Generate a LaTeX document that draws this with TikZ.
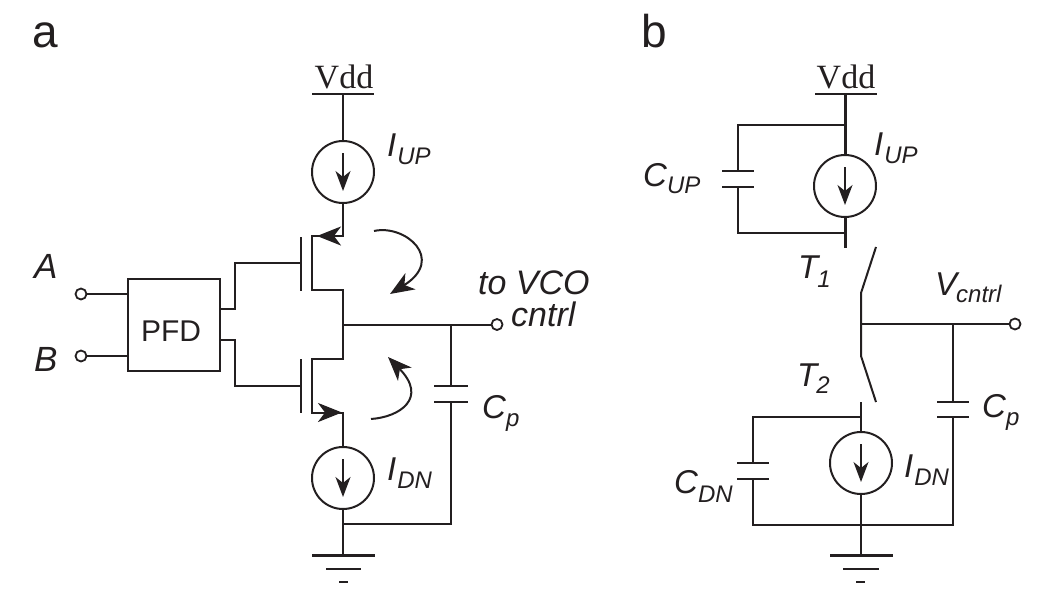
\documentclass[tikz,border=0pt]{standalone}
\usepackage{fontspec}
\setmainfont{Liberation Sans}
\newfontfamily\vddfont{Liberation Serif}
\usetikzlibrary{arrows.meta}
\definecolor{ink}{HTML}{231F20}
\newcommand{\fsz}[1]{\fontsize{#1}{#1}\selectfont}
\newcommand{\lab}[4][1pt]{\fsz{33}\itshape #2\kern#1\raisebox{-#3pt}{\fsz{24}#4}}
\tikzset{
  x=1pt,y=-1pt,
  wire/.style={line width=2pt,color=ink,line join=miter},
  thick wire/.style={line width=3pt,color=ink},
  source/.style={circle,draw=ink,line width=2pt,minimum size=62pt,inner sep=0pt},
  term/.style={circle,draw=ink,line width=1.8pt,fill=white,minimum size=11pt,inner sep=0pt},
  block/.style={draw=ink,line width=2pt,minimum width=92pt,minimum height=92pt,inner sep=0pt},
  txt/.style={anchor=base west,inner sep=0pt,text=ink},
  rail/.style={anchor=base,inner sep=0pt,text=ink,font=\vddfont\fsz{34}},
  head/.style={anchor=base west,inner sep=0pt,text=ink,font=\fsz{46}},
  tipA/.style={-{Stealth[length=20pt,width=15pt,inset=6pt]},line width=1.6pt,color=ink},
  tipB/.style={-{Stealth[length=24pt,width=19pt,inset=7pt]},line width=2pt,color=ink},
}
\begin{document}
\begin{tikzpicture}
\useasboundingbox (0,0) rectangle (1047,589);
% ---------- panel a
\node[head] (la) at (32,47) {a};
\node[rail] (vdda) at (344,88) {Vdd};
\node[source] (sua) at (343,172) {};
\node[source] (sda) at (343,478) {};
\node[block] (pfd) at (174,325) {};
\node[anchor=center,inner sep=0pt,text=ink,font=\fsz{30}] (pfdt) at (171,331) {PFD};
\node[term] (ta) at (81,294) {};
\node[term] (tb) at (81,356) {};
\node[term] (tout) at (497,324.5) {};
\coordinate (ara) at (128,294);
\coordinate (arb) at (128,356);
\draw[wire] (ta) -- (ara);
\draw[wire] (tb) -- (arb);
% rails
\coordinate (vla) at (312,94); \coordinate (vra) at (374,94); \coordinate (vma) at (343,94);
\draw[wire] (vla) -- (vra);
\draw[wire] (vma) -- (sua.north);
% transistors
\coordinate (g1t) at (301,237); \coordinate (g1b) at (301,291); \coordinate (g1m) at (301,263);
\coordinate (c1t) at (312,236); \coordinate (c1b) at (312,290);
\coordinate (s1) at (343,236); \coordinate (d1) at (343,290);
\coordinate (g2t) at (301,359); \coordinate (g2b) at (301,413); \coordinate (g2m) at (301,386);
\coordinate (c2t) at (312,359); \coordinate (c2b) at (312,413);
\coordinate (d2) at (343,359); \coordinate (s2) at (343,413);
\coordinate (na) at (343,324.5);
\coordinate (ca) at (451,324.5);
\draw[wire] (g1t) -- (g1b);
\draw[wire] (g2t) -- (g2b);
\draw[wire] (sua.south) -- (s1) -- (c1t) -- (c1b) -- (d1) -- (d2) -- (c2t) -- (c2b) -- (s2) -- (sda.north);
\draw[wire] (na) -- (tout);
\coordinate (p1a) at (220,309); \coordinate (k1a) at (235,309); \coordinate (k1b) at (235,263);
\coordinate (p2a) at (220,340); \coordinate (k2a) at (235,340); \coordinate (k2b) at (235,386);
\draw[wire] (p1a) -- (k1a) -- (k1b) -- (g1m);
\draw[wire] (p2a) -- (k2a) -- (k2b) -- (g2m);
\draw[tipB] (339,236) -- (317,236);
\draw[tipB] (319,412.5) -- (342,412.5);
% curved arrows
\coordinate (cu1) at (374,231); \coordinate (cu2) at (390,294);
\coordinate (cd1) at (371,419); \coordinate (cd2) at (388,357);
\draw[tipB] (cu1) .. controls (405,224) and (446,259) .. (cu2);
\draw[tipB] (cd1) .. controls (400,417) and (428,398) .. (cd2);
% source arrows
\coordinate (aat) at (343,153); \coordinate (aab) at (343,191);
\coordinate (abt) at (343,459); \coordinate (abb) at (343,497);
\draw[tipA] (aat) -- (aab);
\draw[tipA] (abt) -- (abb);
% Cp a
\coordinate (pa1l) at (434,386); \coordinate (pa1r) at (468,386); \coordinate (pa1m) at (451,386);
\coordinate (pa2l) at (434,402); \coordinate (pa2r) at (468,402); \coordinate (pa2m) at (451,402);
\coordinate (cab) at (451,524); \coordinate (gam) at (343,524);
\draw[wire] (ca) -- (pa1m);
\draw[wire] (pa1l) -- (pa1r);
\draw[wire] (pa2l) -- (pa2r);
\draw[wire] (pa2m) -- (cab) -- (gam);
% ground a
\coordinate (ga1) at (343,555);
\draw[wire] (sda.south) -- (ga1);
\coordinate (ga1l) at (312,555); \coordinate (ga1r) at (375,555);
\coordinate (ga2l) at (326,569); \coordinate (ga2r) at (361,569);
\coordinate (ga3l) at (339,582); \coordinate (ga3r) at (348,582);
\draw[thick wire] (ga1l) -- (ga1r);
\draw[wire] (ga2l) -- (ga2r);
\draw[wire] (ga3l) -- (ga3r);
% labels a
\node[txt] (iupa) at (387,156) {\lab{I}{8}{UP}};
\node[txt] (idna) at (387,480) {\lab{I}{8}{DN}};
\node[txt,font=\fsz{35}\itshape] (lA) at (34,278) {A};
\node[txt,font=\fsz{35}\itshape] (lB) at (34,371) {B};
\node[txt,font=\fsz{34}\itshape] (lvco) at (478,294) {to VCO};
\node[txt,font=\fsz{34}\itshape] (lcn) at (511,326) {cntrl};
\node[txt] (cpa) at (482,418) {\lab[0pt]{C}{8}{p}};
% ---------- panel b
\node[head] (lb) at (641,47) {b};
\node[rail] (vddb) at (846,88) {Vdd};
\node[source] (sub) at (845,186) {};
\node[source] (sdb) at (861,463) {};
\node[term] (toutb) at (1015,324) {};
\coordinate (vlb) at (815,94); \coordinate (vrb) at (877,94); \coordinate (vmb) at (845,94);
\draw[wire] (vlb) -- (vrb);
\draw[thick wire] (vmb) -- (sub.north);
\coordinate (t1top) at (845,248);
\draw[thick wire] (sub.south) -- (t1top);
% C_UP
\coordinate (cuw1) at (845,125); \coordinate (cuw2) at (738,125); \coordinate (cup1) at (738,171);
\coordinate (cuw3) at (845,233); \coordinate (cuw4) at (738,233); \coordinate (cup2) at (738,187);
\coordinate (cu1l) at (722,171); \coordinate (cu1r) at (754,171);
\coordinate (cu2l) at (722,187); \coordinate (cu2r) at (754,187);
\draw[wire] (cuw1) -- (cuw2) -- (cup1);
\draw[wire] (cuw3) -- (cuw4) -- (cup2);
\draw[wire] (cu1l) -- (cu1r);
\draw[wire] (cu2l) -- (cu2r);
% switches
\coordinate (sw1) at (876,247); \coordinate (sw2) at (861,293);
\coordinate (sw3) at (861,356); \coordinate (sw4) at (876,402);
\draw[wire] (sw1) -- (sw2) -- (sw3) -- (sw4);
\coordinate (nb) at (861,324);
\draw[wire] (nb) -- (toutb);
% Cp b
\coordinate (cbt) at (953,324); \coordinate (cb1) at (953,402); \coordinate (cb2) at (953,417);
\coordinate (cb1l) at (937,402); \coordinate (cb1r) at (969,402);
\coordinate (cb2l) at (937,417); \coordinate (cb2r) at (969,417);
\coordinate (cbb) at (953,525); \coordinate (cdb) at (753,525);
\coordinate (cdp2) at (753,479); \coordinate (cdp1) at (753,463);
\coordinate (cdt) at (753,417); \coordinate (cdm) at (861,417);
\coordinate (cd1l) at (737,463); \coordinate (cd1r) at (769,463);
\coordinate (cd2l) at (737,479); \coordinate (cd2r) at (769,479);
\draw[wire] (cbt) -- (cb1);
\draw[wire] (cb1l) -- (cb1r);
\draw[wire] (cb2l) -- (cb2r);
\draw[wire] (cb2) -- (cbb) -- (cdb) -- (cdp2);
\draw[wire] (cd1l) -- (cd1r);
\draw[wire] (cd2l) -- (cd2r);
\draw[wire] (cdp1) -- (cdt) -- (cdm);
\coordinate (t2b) at (861,402);
\draw[wire] (t2b) -- (sdb.north);
% ground b
\coordinate (gb1) at (861,555);
\draw[wire] (sdb.south) -- (gb1);
\coordinate (gb1l) at (830,555); \coordinate (gb1r) at (893,555);
\coordinate (gb2l) at (843,569); \coordinate (gb2r) at (879,569);
\coordinate (gb3l) at (856,582); \coordinate (gb3r) at (865,582);
\draw[thick wire] (gb1l) -- (gb1r);
\draw[wire] (gb2l) -- (gb2r);
\draw[wire] (gb3l) -- (gb3r);
% source arrows b
\coordinate (bat) at (845,167); \coordinate (bab) at (845,205);
\coordinate (bbt) at (861,444); \coordinate (bbb) at (861,482);
\draw[tipA] (bat) -- (bab);
\draw[tipA] (bbt) -- (bbb);
% labels b
\node[txt] (iupb) at (874,155) {\lab{I}{8}{UP}};
\node[txt] (idnb) at (904,477) {\lab{I}{8}{DN}};
\node[txt] (lcup) at (643,186) {\lab[0pt]{C}{7}{UP}};
\node[txt] (lcdn) at (674,493) {\lab[0pt]{C}{9}{DN}};
\node[txt] (lt1) at (798,278) {\lab[-1pt]{T}{9}{1}};
\node[txt] (lt2) at (797,386) {\lab[-1pt]{T}{7}{2}};
\node[txt] (lv) at (935,295) {\lab[-1pt]{V}{7}{cntrl}};
\node[txt] (cpb) at (982,417) {\lab[0pt]{C}{8}{p}};
\end{tikzpicture}
\end{document}
